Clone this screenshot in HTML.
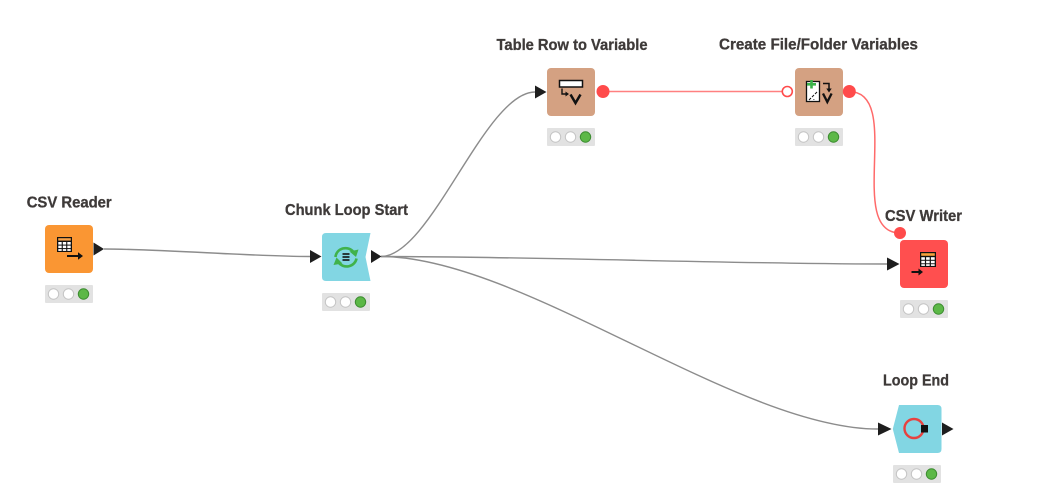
<!DOCTYPE html>
<html>
<head>
<meta charset="utf-8">
<style>
  html, body { margin: 0; padding: 0; background: #ffffff; }
  body { width: 1048px; height: 504px; overflow: hidden; }
  svg { display: block; }
  .lbl { font-family: "Liberation Sans", "DejaVu Sans", sans-serif; font-weight: bold; font-size: 16px; fill: #3e3a39; stroke: #3e3a39; stroke-width: 0.3px; }
</style>
</head>
<body>
<svg width="1048" height="504" viewBox="0 0 1048 504" xmlns="http://www.w3.org/2000/svg">
  <rect x="0" y="0" width="1048" height="504" fill="#ffffff"/>

  <!-- Gray data connections -->
  <g fill="none" stroke="#8c8c8c" stroke-width="1.4">
    <path d="M104,249 C164,249 250,256.5 310,256.5"/>
    <path d="M381,256.5 C431,256.5 485,92 535,92"/>
    <path d="M381,256.5 C531,256.5 737,264 887,264"/>
    <path d="M381,256.5 C521,256.5 738,429 878,429"/>
  </g>

  <!-- Red flow variable connections -->
  <g fill="none" stroke-width="1.5">
    <path d="M603,91.5 H787" stroke="#ff8080"/>
    <path d="M849,91.5 C904,91.5 845,233 900,233" stroke="#ff6a6a"/>
  </g>

  <!-- Labels -->
  <text class="lbl" x="69.2" y="207.3" text-anchor="middle" textLength="85" lengthAdjust="spacingAndGlyphs">CSV Reader</text>
  <text class="lbl" x="346.5" y="214.8" text-anchor="middle" textLength="123" lengthAdjust="spacingAndGlyphs">Chunk Loop Start</text>
  <text class="lbl" x="572" y="50.2" text-anchor="middle" textLength="151" lengthAdjust="spacingAndGlyphs">Table Row to Variable</text>
  <text class="lbl" x="818.5" y="49.5" text-anchor="middle" textLength="199" lengthAdjust="spacingAndGlyphs">Create File/Folder Variables</text>
  <text class="lbl" x="923.5" y="221" text-anchor="middle" textLength="77" lengthAdjust="spacingAndGlyphs">CSV Writer</text>
  <text class="lbl" x="916" y="385.5" text-anchor="middle" textLength="66" lengthAdjust="spacingAndGlyphs">Loop End</text>

  <!-- ============ CSV Reader ============ -->
  <rect x="45" y="225" width="48" height="48" rx="4" fill="#fa9633"/>
  <rect x="57" y="237" width="15" height="15" fill="#111"/>
  <rect x="58.2" y="238.2" width="12.6" height="2.4" fill="#f7a24a"/>
  <g fill="#ffffff">
    <rect x="58.3" y="242" width="3.4" height="2.6"/>
    <rect x="62.8" y="242" width="3.4" height="2.6"/>
    <rect x="67.3" y="242" width="3.4" height="2.6"/>
    <rect x="58.3" y="245.6" width="3.4" height="2.5"/>
    <rect x="62.8" y="245.6" width="3.4" height="2.5"/>
    <rect x="67.3" y="245.6" width="3.4" height="2.5"/>
    <rect x="58.3" y="249.1" width="3.4" height="1.8"/>
    <rect x="62.8" y="249.1" width="3.4" height="1.8"/>
    <rect x="67.3" y="249.1" width="3.4" height="1.8"/>
  </g>
  <path d="M67,256 H79" stroke="#111" stroke-width="2"/>
  <polygon points="78,252.3 83,256 78,259.7" fill="#111"/>
  <polygon points="93.5,242.5 104,249 93.5,255.5" fill="#1e1e1e"/>
  <rect x="45" y="285" width="48" height="18" rx="1" fill="#e2e2e2"/>
  <circle cx="53.5" cy="294" r="5.2" fill="#fff" stroke="#c4c4c4" stroke-width="1"/>
  <circle cx="68.5" cy="294" r="5.2" fill="#fff" stroke="#c4c4c4" stroke-width="1"/>
  <circle cx="83.5" cy="294" r="5.2" fill="#5cb847" stroke="#3c8c30" stroke-width="1"/>

  <!-- ============ Chunk Loop Start ============ -->
  <path d="M326,233 H370.5 L365.5,257 L370.5,281 H326 Q322,281 322,277 V237 Q322,233 326,233 Z" fill="#82d6e3"/>
  <g fill="none" stroke="#40b24b" stroke-width="2.6">
    <path d="M335.5,257 A10,9.5 0 0 1 353.5,252"/>
    <path d="M356.5,258.5 A10,9.5 0 0 1 338.5,262.5"/>
  </g>
  <polygon points="349.5,251.5 358.5,249.5 356,257" fill="#40b24b"/>
  <polygon points="342.5,263.5 333.5,265 336.5,257.5" fill="#40b24b"/>
  <g stroke="#111" stroke-width="1.6">
    <path d="M342.5,254 H349.5"/>
    <path d="M342.5,257 H349.5"/>
    <path d="M342.5,260 H349.5"/>
  </g>
  <polygon points="310,250 321.5,256.5 310,263" fill="#1e1e1e"/>
  <polygon points="371,250 381.5,256.5 371,263" fill="#1e1e1e"/>
  <rect x="322" y="293" width="48" height="18" rx="1" fill="#e2e2e2"/>
  <circle cx="330.5" cy="302" r="5.2" fill="#fff" stroke="#c4c4c4" stroke-width="1"/>
  <circle cx="345.5" cy="302" r="5.2" fill="#fff" stroke="#c4c4c4" stroke-width="1"/>
  <circle cx="360.5" cy="302" r="5.2" fill="#5cb847" stroke="#3c8c30" stroke-width="1"/>

  <!-- ============ Table Row to Variable ============ -->
  <rect x="547" y="68" width="48" height="48" rx="4" fill="#d4a182"/>
  <rect x="559.5" y="80.5" width="23" height="6.5" fill="#fff" stroke="#111" stroke-width="1.5"/>
  <path d="M562,88.5 V94 H566" fill="none" stroke="#111" stroke-width="1.4"/>
  <polygon points="565.5,91.5 569,94 565.5,96.5" fill="#111"/>
  <path d="M570.5,94.5 L575.5,103 L580.5,94.5" fill="none" stroke="#111" stroke-width="2.5"/>
  <polygon points="535,85.5 546.5,92 535,98.5" fill="#1e1e1e"/>
  <circle cx="603" cy="91.5" r="6.5" fill="#ff4b4b"/>
  <rect x="547" y="128" width="48" height="18" rx="1" fill="#e2e2e2"/>
  <circle cx="555.5" cy="137" r="5.2" fill="#fff" stroke="#c4c4c4" stroke-width="1"/>
  <circle cx="570.5" cy="137" r="5.2" fill="#fff" stroke="#c4c4c4" stroke-width="1"/>
  <circle cx="585.5" cy="137" r="5.2" fill="#5cb847" stroke="#3c8c30" stroke-width="1"/>

  <!-- ============ Create File/Folder Variables ============ -->
  <rect x="795" y="68" width="48" height="48" rx="4" fill="#d4a182"/>
  <rect x="806.5" y="81.5" width="13" height="20" fill="#fff" stroke="#111" stroke-width="1.3"/>
  <path d="M809,100 L811,98 M812,97 L814,95 M815,94 L817,92" stroke="#111" stroke-width="1" fill="none"/>
  <path d="M810,98.5 h0.8 M813.5,99.5 h0.8" stroke="#111" stroke-width="1"/>
  <path d="M811.5,80 V88.5 M807,84.3 H816" stroke="#3cb34a" stroke-width="2.6"/>
  <path d="M823,83.5 H829 V89" fill="none" stroke="#111" stroke-width="1.5"/>
  <polygon points="826.3,88.5 829,92.5 831.7,88.5" fill="#111"/>
  <path d="M823,93.5 L827.3,102 L831.6,93.5" fill="none" stroke="#111" stroke-width="2.3"/>
  <circle cx="787.3" cy="91.5" r="5" fill="#fff" stroke="#ff4b4b" stroke-width="1.6"/>
  <circle cx="849.3" cy="91.5" r="6.5" fill="#ff4b4b"/>
  <rect x="795" y="128" width="48" height="18" rx="1" fill="#e2e2e2"/>
  <circle cx="803.5" cy="137" r="5.2" fill="#fff" stroke="#c4c4c4" stroke-width="1"/>
  <circle cx="818.5" cy="137" r="5.2" fill="#fff" stroke="#c4c4c4" stroke-width="1"/>
  <circle cx="833.5" cy="137" r="5.2" fill="#5cb847" stroke="#3c8c30" stroke-width="1"/>

  <!-- ============ CSV Writer ============ -->
  <rect x="900" y="240" width="48" height="48" rx="4" fill="#ff4f4f"/>
  <rect x="920" y="252" width="16" height="15" fill="#111"/>
  <rect x="921.2" y="253.2" width="13.6" height="2.6" fill="#f7a13a"/>
  <g fill="#ffffff">
    <rect x="921.3" y="257.2" width="3.6" height="2.6"/>
    <rect x="926.1" y="257.2" width="3.6" height="2.6"/>
    <rect x="930.9" y="257.2" width="3.8" height="2.6"/>
    <rect x="921.3" y="260.8" width="3.6" height="2.5"/>
    <rect x="926.1" y="260.8" width="3.6" height="2.5"/>
    <rect x="930.9" y="260.8" width="3.8" height="2.5"/>
    <rect x="921.3" y="264.2" width="3.6" height="1.7"/>
    <rect x="926.1" y="264.2" width="3.6" height="1.7"/>
    <rect x="930.9" y="264.2" width="3.8" height="1.7"/>
  </g>
  <path d="M911.5,272 H919.5" stroke="#111" stroke-width="2"/>
  <polygon points="918.5,268.5 923,272 918.5,275.5" fill="#111"/>
  <polygon points="887,257.5 899.5,264 887,270.5" fill="#1e1e1e"/>
  <circle cx="900" cy="233" r="6" fill="#ff4b4b"/>
  <rect x="900" y="300" width="48" height="18" rx="1" fill="#e2e2e2"/>
  <circle cx="908.5" cy="309" r="5.2" fill="#fff" stroke="#c4c4c4" stroke-width="1"/>
  <circle cx="923.5" cy="309" r="5.2" fill="#fff" stroke="#c4c4c4" stroke-width="1"/>
  <circle cx="938.5" cy="309" r="5.2" fill="#5cb847" stroke="#3c8c30" stroke-width="1"/>

  <!-- ============ Loop End ============ -->
  <path d="M899,405 H937.5 Q941.5,405 941.5,409 V449 Q941.5,453 937.5,453 H899 L892.8,429 Z" fill="#82d6e3"/>
  <circle cx="914" cy="428.5" r="9.5" fill="none" stroke="#e8423f" stroke-width="2.4"/>
  <rect x="921" y="425" width="7" height="7.5" fill="#111"/>
  <polygon points="878,422.5 891.5,429 878,435.5" fill="#1e1e1e"/>
  <polygon points="942,422.5 953.5,429 942,435.5" fill="#1e1e1e"/>
  <rect x="893" y="465" width="48" height="18" rx="1" fill="#e2e2e2"/>
  <circle cx="901.5" cy="474" r="5.2" fill="#fff" stroke="#c4c4c4" stroke-width="1"/>
  <circle cx="916.5" cy="474" r="5.2" fill="#fff" stroke="#c4c4c4" stroke-width="1"/>
  <circle cx="931.5" cy="474" r="5.2" fill="#5cb847" stroke="#3c8c30" stroke-width="1"/>
</svg>
</body>
</html>
